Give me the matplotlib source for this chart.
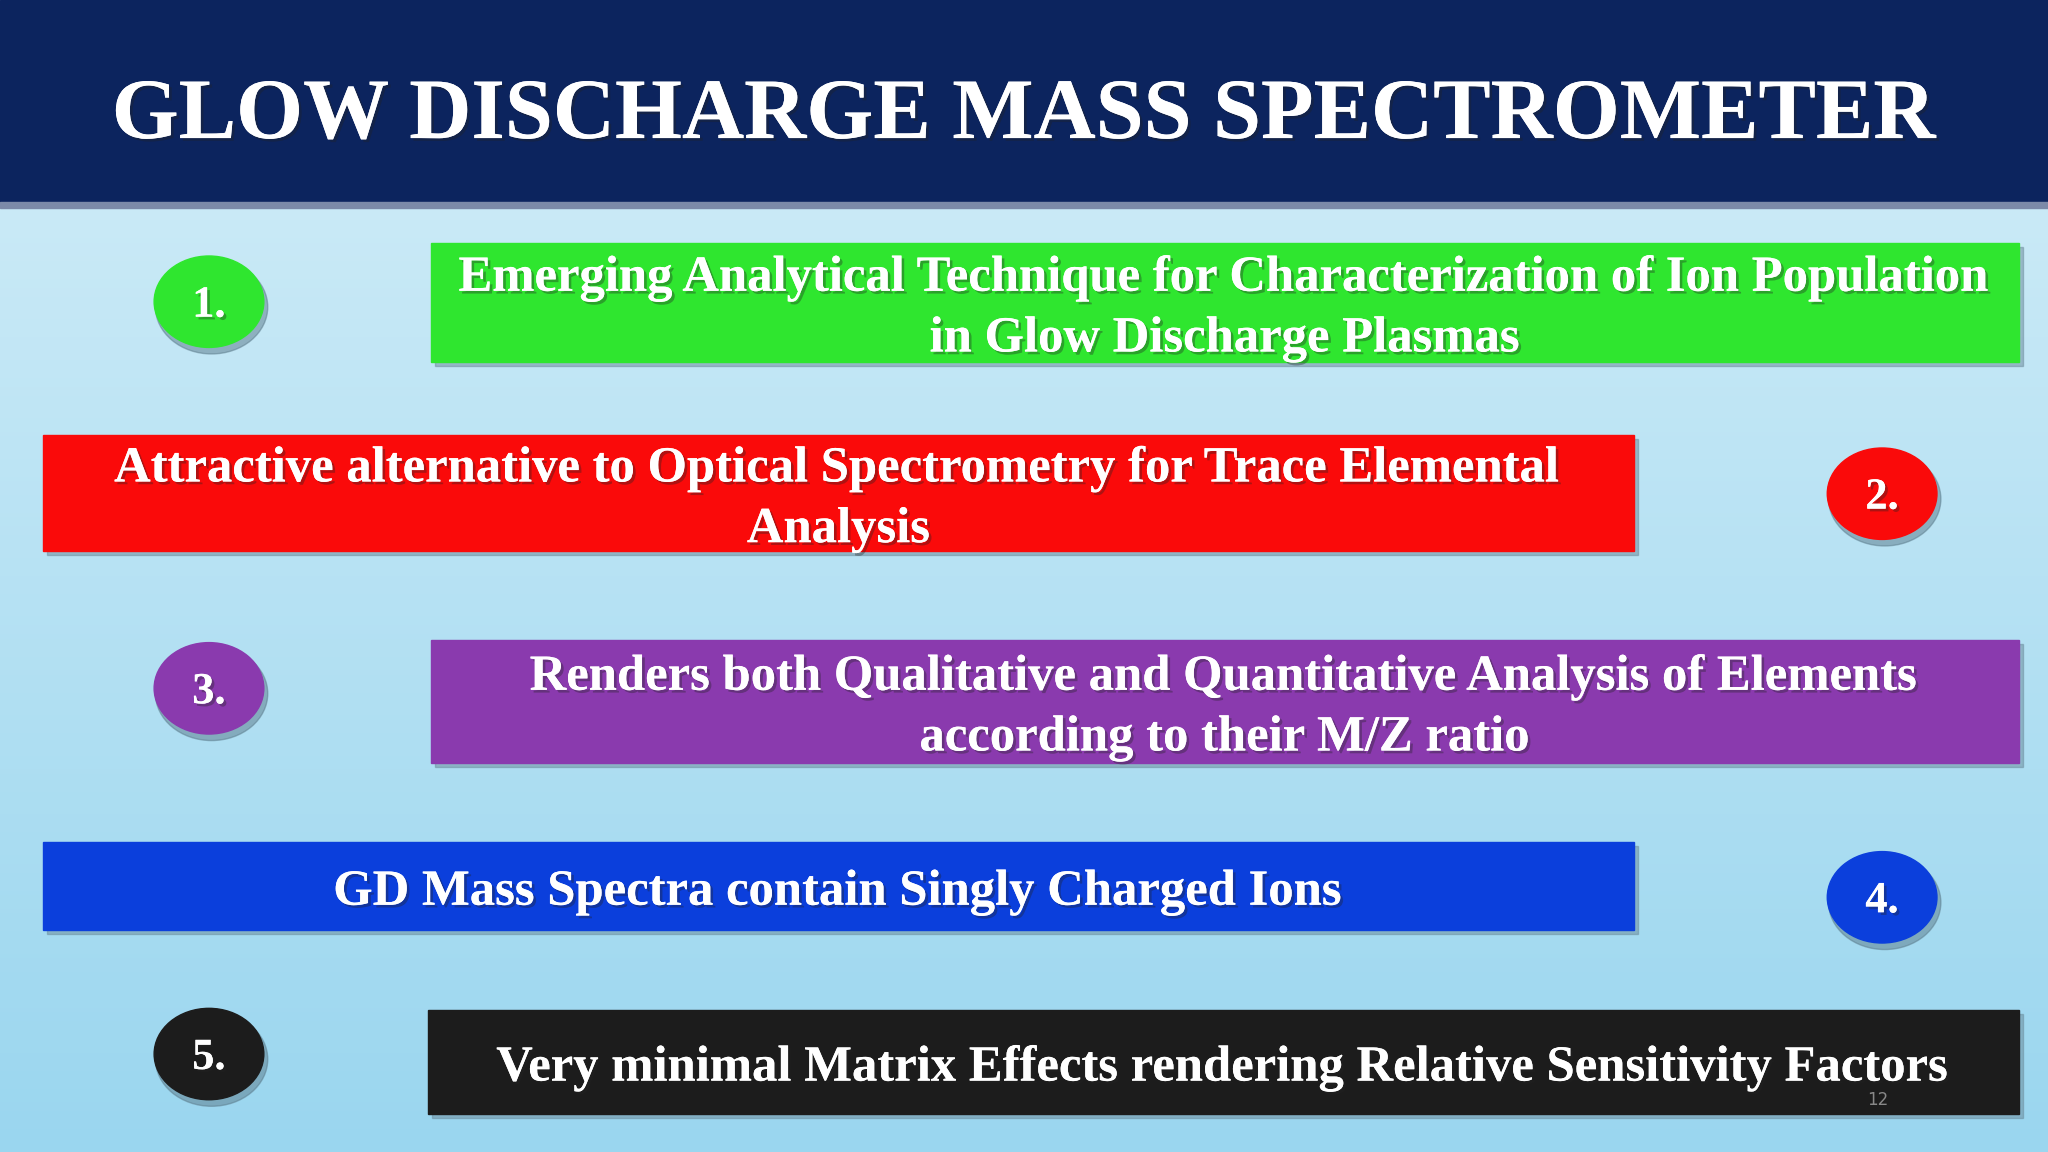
import matplotlib
matplotlib.use("Agg")
import matplotlib.pyplot as plt
import numpy as np
from matplotlib.patches import Rectangle, Ellipse
import matplotlib.patheffects as pe
from matplotlib.colors import LinearSegmentedColormap

title = "GLOW DISCHARGE MASS SPECTROMETER"
texts = ["Emerging Analytical Technique for Characterization of Ion Population\nin Glow Discharge Plasmas",
         "Attractive alternative to Optical Spectrometry for Trace Elemental\nAnalysis",
         "Renders both Qualitative and Quantitative Analysis of Elements\naccording to their M/Z ratio",
         "GD Mass Spectra contain Singly Charged Ions",
         "Very minimal Matrix Effects rendering Relative Sensitivity Factors"]
numbers = ["1.", "2.", "3.", "4.", "5."]
colors = ["#2fe62f", "#fa0a0a", "#8a3aae", "#0b3fdc", "#1c1c1c"]
# layout (display units, 1568x882 canvas)
box_x = [330, 33, 330, 33, 328]
box_y = [186, 333, 490, 645, 773]
box_w = [1216, 1218, 1216, 1218, 1218]
box_h = [91, 89, 94, 67, 80]
circ_x = [160, 1441, 160, 1441, 160]
circ_y = [231, 378, 527, 687, 807]

fig = plt.figure(figsize=(20.48, 11.52), dpi=100)
ax = fig.add_axes([0, 0, 1, 1])
ax.set_xlim(0, 1568); ax.set_ylim(882, 0); ax.axis("off")
grad = np.linspace(0, 1, 256)[:, None]
cm = LinearSegmentedColormap.from_list("bg", ["#d4eef8", "#9ad6ef"])
ax.imshow(grad, cmap=cm, extent=[0, 1568, 882, 0], aspect="auto", zorder=0)
ax.add_patch(Rectangle((0, 0), 1568, 155, color="#0c245e", zorder=1))
ax.add_patch(Rectangle((0, 155), 1568, 4, color="#7c8aa8", zorder=1))
shadow = [pe.withSimplePatchShadow(offset=(2, -2), shadow_rgbFace="#222222", alpha=0.35), pe.Normal()]
ax.text(784, 90, title, color="white", fontsize=62, fontweight="bold",
        family="Liberation Serif", ha="center", va="center", zorder=3, path_effects=shadow)
for i in range(5):
    ax.add_patch(Rectangle((box_x[i] + 3, box_y[i] + 3), box_w[i], box_h[i], color="#6a8a9a", alpha=0.5, zorder=1))
    ax.add_patch(Rectangle((box_x[i], box_y[i]), box_w[i], box_h[i], color=colors[i], zorder=2))
    ax.text(box_x[i] + box_w[i] / 2, box_y[i] + box_h[i] / 2 + 5, texts[i], color="white",
            fontsize=36.5, fontweight="bold", family="Liberation Serif", ha="center", va="center",
            linespacing=1.42, zorder=3, path_effects=shadow)
    ax.add_patch(Ellipse((circ_x[i] + 2, circ_y[i] + 4), 86, 72, color="#5a7a8a", alpha=0.5, zorder=1))
    ax.add_patch(Ellipse((circ_x[i], circ_y[i]), 84, 70, color=colors[i], zorder=2))
    ax.text(circ_x[i], circ_y[i] + 3, numbers[i], color="white", fontsize=32, fontweight="bold",
            family="Liberation Serif", ha="center", va="center", zorder=3, path_effects=shadow)
ax.text(1438, 842, "12", color="#888888", fontsize=12, ha="center", va="center", zorder=3)
fig.savefig("out.png", dpi=100)
